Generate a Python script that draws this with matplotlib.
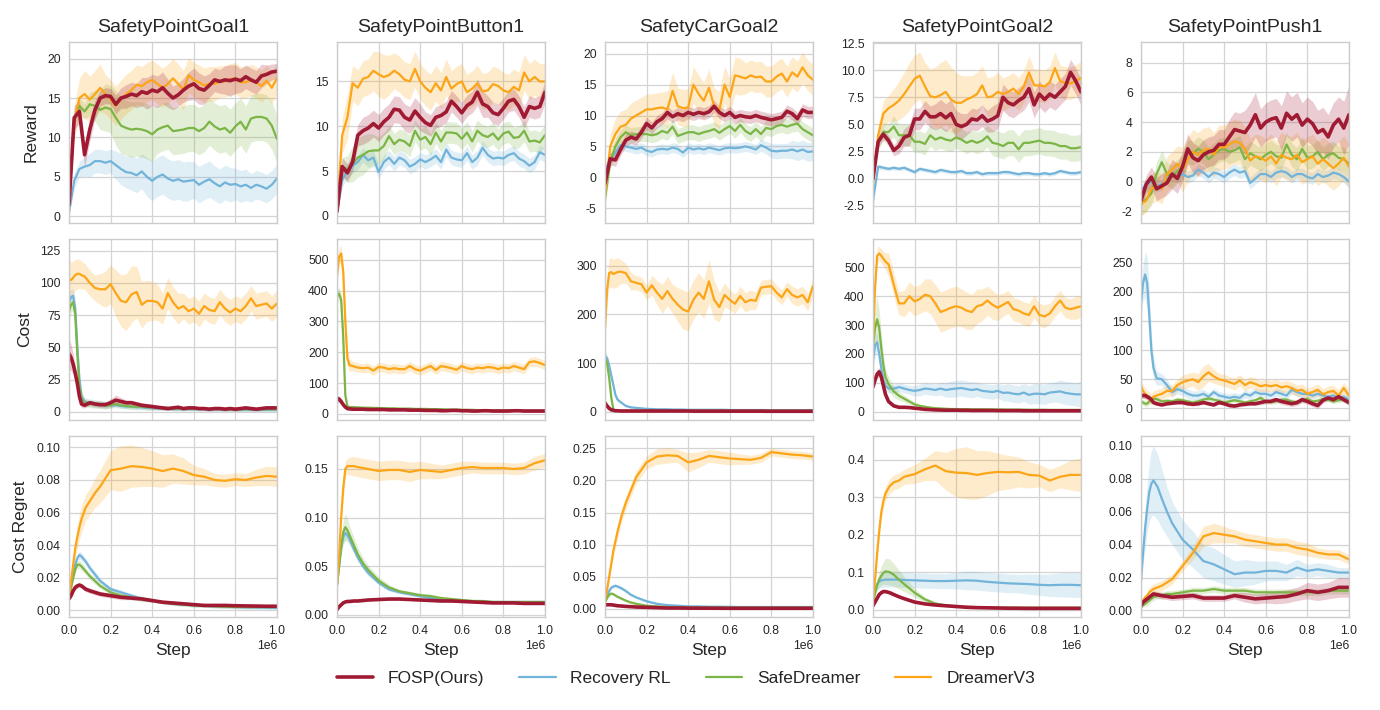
import numpy as np
import matplotlib
matplotlib.use("Agg")
import matplotlib.pyplot as plt
import seaborn as sns
from matplotlib.lines import Line2D

sns.set_style("whitegrid")
plt.rcParams['font.family'] = ['Liberation Sans', 'DejaVu Sans']
plt.rcParams['axes.unicode_minus'] = True

# ---------------- x grids (millions of steps) ----------------
STEPS_REWARD = [0, 0.025, 0.05, 0.075, 0.1, 0.125, 0.15, 0.175, 0.2, 0.225, 0.25, 0.275, 0.3, 0.325,
                0.35, 0.375, 0.4, 0.425, 0.45, 0.475, 0.5, 0.525, 0.55, 0.575, 0.6, 0.625, 0.65, 0.675,
                0.7, 0.725, 0.75, 0.775, 0.8, 0.825, 0.85, 0.875, 0.9, 0.925, 0.95, 0.975, 1.0]
STEPS_COST = [0, 0.01, 0.02, 0.03, 0.04, 0.05, 0.06, 0.075, 0.1, 0.125, 0.15, 0.175, 0.2, 0.225, 0.25,
              0.275, 0.3, 0.325, 0.35, 0.375, 0.4, 0.425, 0.45, 0.475, 0.5, 0.525, 0.55, 0.575, 0.6,
              0.625, 0.65, 0.675, 0.7, 0.725, 0.75, 0.775, 0.8, 0.825, 0.85, 0.875, 0.9, 0.925, 0.95,
              0.975, 1.0]
STEPS_REGRET = [0, 0.01, 0.02, 0.03, 0.04, 0.05, 0.06, 0.08, 0.1, 0.125, 0.15, 0.2, 0.25, 0.3, 0.35,
                0.4, 0.45, 0.5, 0.55, 0.6, 0.65, 0.7, 0.75, 0.8, 0.85, 0.9, 0.95, 1.0]

ENVS = ["SafetyPointGoal1", "SafetyPointButton1", "SafetyCarGoal2", "SafetyPointGoal2", "SafetyPointPush1"]
METHODS = ["FOSP(Ours)", "Recovery RL", "SafeDreamer", "DreamerV3"]
ROW_LABELS = ["Reward", "Cost", "Cost Regret"]

# ======================= REWARD =======================
# SafetyPointGoal1
rew_g1_fosp = [1.5,12.5,13.3,7.8,11,13.5,15,15.3,15.2,14.2,15,15.2,15.5,15.3,15.8,15.6,16,15.8,16.3,15.6,15,15.4,16,16.5,16.8,16.2,16,16.6,17.3,17.1,17.3,17.2,17.4,17.2,17.7,17.3,17,17.8,18,18.3,18.4]
rew_g1_fosp_e = [1,1.5,1.5,1.5,1.5,1.2,1,1,1,1.2,1.3,1.5,1.5,1.5,1.8,2,2,2,2,1.8,1.5,1.5,1.5,1.8,2,2,1.8,1.5,1.5,1.5,1.8,2,1.8,1.5,1.5,1.5,1.5,1.5,1.2,1,1]
rew_g1_rec = [0.5,4.5,6,6.3,6.5,7,7,6.8,7,6.5,6,5.6,5.5,5.2,5.7,5,4.5,5,5.3,4.8,4.5,4.7,4.4,4.5,4.6,4,4.4,4.7,4.2,3.8,4.3,4,4.1,3.8,4,3.6,4,3.8,3.5,4,4.8]
rew_g1_rec_e = [0.5,1,1,1.2,1.5,1.5,1.5,1.5,1.5,1.8,2,2,2.2,2.2,2.2,2.5,2.5,2.5,2.5,2.5,2.5,2.5,2.5,2.5,2.3,2.3,2.3,2.3,2.2,2.2,2.2,2.2,2,2,2,1.8,1.8,1.8,1.8,1.8,1.8]
rew_g1_sdr = [1,12.5,14,13.3,14.2,14,13.5,13.8,13.6,12.5,11.5,11.2,11,11.1,11,10.8,10.4,11,11.3,11.5,10.8,10.9,11,11.2,11.2,10.8,11.2,12,11.4,11,11.2,10.6,11.4,12,11,12.4,12.6,12.6,12.4,11.5,9.8]
rew_g1_sdr_e = [0.5,1,1,1,1.5,2,2.5,3,3,3.5,3.5,3.5,3.5,3.5,3.5,3.5,3.5,3,3,3,3,3,3,3,3,3,3,3,3,3,3,3,3,3,3,3,3,3,3,3,3]
rew_g1_dv3 = [2,12,15,15.5,14.8,15.5,16.3,15.5,14.8,14,14.8,15.5,16,16.7,16.5,17,17.3,16.8,16.3,16.8,17.5,16.8,16,17.9,17.3,17,16.6,16.8,16.8,17.1,17.1,17.4,17.5,17,17,17.3,17,16.5,17.2,16.3,17.5]
rew_g1_dv3_e = [1,2,2.5,3,3,3,3,2.5,2.5,2.5,2.5,2.5,2.5,2.5,2.5,2.5,2.5,2.5,2.5,2.5,2.5,2.5,2.5,2.2,2.2,2.2,2.2,2.2,2.2,2,2,2,2,2,2,2,2,2,2,2,2]

# SafetyPointButton1
rew_b1_fosp = [0.5,5.5,4.8,6,9,9.5,9.8,10.3,9.8,10.5,11,11.9,11.8,11,10.7,11.7,11,10.4,10.1,11,11.2,11.6,12.8,12.2,11.5,12.3,12.7,13.8,12.5,12.2,11.5,11.3,12,12.8,13,12.2,11,12.2,12,12.2,13.8]
rew_b1_fosp_e = [0.5,1,1,1,1.2,1.5,1.5,1.5,1.5,1.5,1.5,1.5,1.5,1.5,1.5,1.5,1.5,1.2,1.2,1.2,1.2,1.2,1.2,1.2,1.2,1.2,1.2,1.5,1.5,1.2,1.2,1.2,1.2,1.2,1.2,1.2,1.2,1.2,1.2,1.2,1.2]
rew_b1_rec = [0.3,4,5,5.6,6,6.8,6.2,6.5,4.9,6,6.5,5.8,6.5,6.2,5.5,5.8,6.3,6,6.3,6.7,6,7.4,6.5,6.3,6.2,7,6,6.5,7.6,6.8,6.4,6.5,6.4,6.8,7,6.4,6.1,5.6,6,7.1,6.8]
rew_b1_rec_e = [0.3,0.8,0.8,0.8,0.8,0.8,0.8,0.8,0.8,0.8,0.8,0.8,0.8,0.8,0.8,0.8,0.8,0.8,0.8,0.8,0.8,0.8,0.8,0.8,0.8,0.8,0.8,0.8,0.8,0.8,0.8,0.8,0.8,0.8,0.8,0.8,0.8,0.8,0.8,0.8,0.8]
rew_b1_sdr = [0.3,5.5,5.2,5.8,6.5,6.8,7.2,7.3,7.3,7.8,8.9,8,8.5,8.3,7.8,9.5,8.5,8.8,8,9.3,8.3,9.3,9.3,9.2,8.6,9.3,8.3,9.5,9,8.8,9.2,8.5,9.2,9.4,8.7,8.8,9.5,8.3,8.4,8.2,9]
rew_b1_sdr_e = [0.3,1,1.5,2,2.2,2.2,2,1.8,1.5,1.5,1.2,1.2,1.2,1.2,1.2,1.2,1.2,1.2,1.2,1.2,1.2,1.2,1.2,1.2,1.2,1.2,1.2,1.2,1.2,1.2,1.2,1.2,1.2,1.2,1.2,1.2,1.2,1.2,1.2,1.2,1.2]
rew_b1_dv3 = [0.5,9,11,14.8,14.3,15.3,15.5,16.2,15.8,15.5,15.7,16.2,15.8,15.2,15,16.4,15,14.3,13.8,14.8,14,15.5,14.2,14.7,15,13.8,14.2,14.8,13.9,14,14.7,14.5,14,13.8,14.4,14,16,15,15.5,15,15]
rew_b1_dv3_e = [0.5,2,2.5,2,2,2,2,2.2,2.5,2.5,2.2,2,2,2,2,2,2,2,2,2,2,2,2,2,2,2,2,2,2,2,2,2,2,2,2,2,2,2,2,2,2]

# SafetyCarGoal2
rew_c2_fosp = [-1,3,2.8,4.5,6,6.5,6.2,7.3,8.7,8,9,9.5,10.5,9.8,10.3,10,10.5,10.2,10.5,10.3,10.6,11.5,10.5,10,10.5,9.7,10,9.8,9.7,10,9.7,9.5,9.3,9.5,9.7,10.7,10.3,9.5,10.9,10.5,10.5]
rew_c2_fosp_e = [1,1,1,1,1,1,1,1,1,1,1,1,1,1,1,1,1,1,1,1,1,1,1,1,1,1,1,1,1,1,1,1,1,1,1,1,1,1,1,1,1]
rew_c2_rec = [1,3,4,5.2,5,4.8,4.6,4.8,4.3,4.1,4.5,4.6,4.5,4.8,4.6,4,4.8,4.5,4.7,4.5,4.8,4.6,4.4,4.7,4.8,4.7,4.8,5,4.8,4.5,5.2,4.8,4.3,4.2,4.3,4.3,4.5,4.2,4.5,4.1,4.2]
rew_c2_rec_e = [1,0.8,0.8,0.8,0.8,0.8,0.8,0.8,0.8,0.8,0.8,0.8,0.8,0.8,0.8,0.8,0.8,0.8,0.8,0.8,0.8,0.8,0.8,0.8,0.8,0.8,0.8,0.8,0.8,0.8,1,1,1.2,1.2,1.2,1.2,1.5,1.5,1.5,1.5,1.5]
rew_c2_sdr = [-3.5,2.5,5,6.5,7.3,6.8,7,7,7,6.8,7,7.5,7.2,8.2,6.7,7,7.3,7.3,7,7.3,7.5,7.8,7.2,7.8,8.3,7.5,8.5,7.5,7,7.8,7,8,7.8,8.3,8.5,8.2,8.5,8.7,7.8,7.3,6.8]
rew_c2_sdr_e = [1.5,1.2,1.2,1.2,1.2,1.2,1.2,1.2,1.2,1.2,1.2,1.2,1.2,1.2,1.2,1.2,1.2,1.2,1.2,1.2,1.2,1.2,1.2,1.2,1.2,1.2,1.2,1.2,1.2,1.2,1.2,1.2,1.2,1.2,1.2,1.2,1.2,1.2,1.2,1.2,1.2]
rew_c2_dv3 = [-3,5,7,8.2,8.5,9.5,10,10.5,11,11,11.2,11.3,11,14,11.5,11.2,11.3,15,13.5,12.4,14.5,11.5,10.9,15,13,16.5,16.3,16,16.5,16.2,16.3,15.5,15.5,16.3,16.8,15.5,17,16.3,17.8,16.5,15.8]
rew_c2_dv3_e = [1.5,2,2.5,2.5,2.5,2.5,2.5,2.5,2.5,2.5,2.5,2.5,3,3,3,3,3,3,3,3,3,3,3,3,3,3,3,2.5,2.5,2.5,2.5,2.5,2.5,2.5,2.5,2.5,2.5,2.5,2.5,2.5,2.5]

# SafetyPointGoal2
rew_g2_fosp = [0,3.4,4.1,3.5,2.6,3,3.8,4,5.5,5.5,6.2,5.7,5.7,6,5.6,6,5,4.8,5,5.5,5.4,5.8,5.3,5.5,5.8,7.5,7,6.8,7.2,7.5,8.3,6.8,7.8,7.3,7.8,7.5,8,8.5,9.8,9,8]
rew_g2_fosp_e = [0.3,0.5,0.5,0.5,0.5,0.7,0.8,1,1,1,1,1,1.2,1.3,1.3,1.3,1.3,1.2,1,1,1,1,1,1.2,1.2,1.2,1.2,1.2,1.2,1.2,1.2,1.2,1.2,1.2,1.2,1.2,1.2,1.2,1.2,1.2,1.2]
rew_g2_rec = [-2,1.1,1,0.9,1,0.9,1,0.8,0.6,0.9,0.8,0.7,0.6,0.8,0.7,0.6,0.6,0.7,0.5,0.5,0.6,0.4,0.5,0.5,0.5,0.6,0.6,0.5,0.4,0.5,0.5,0.4,0.4,0.5,0.4,0.5,0.7,0.6,0.5,0.5,0.6]
rew_g2_rec_e = [0.8,0.3,0.2,0.2,0.2,0.2,0.2,0.2,0.2,0.2,0.2,0.2,0.2,0.2,0.2,0.2,0.2,0.2,0.2,0.2,0.2,0.2,0.2,0.2,0.2,0.2,0.2,0.2,0.2,0.2,0.2,0.2,0.2,0.2,0.2,0.2,0.2,0.2,0.2,0.2,0.2]
rew_g2_sdr = [0.3,3.5,4.3,4.3,4.8,4,4,4,3.4,3.4,3.2,4,3.6,3.8,3.6,3.5,3.8,3.6,3.3,3.5,3.3,3.5,3.9,3.3,3.2,3,3.3,3.3,2.7,3.3,3.3,3.4,3.5,3.3,3.3,3.2,3,3,2.8,2.8,2.9]
rew_g2_sdr_e = [0.5,0.8,0.8,0.8,1,1,1,1,1,1,1,1,1,1,1,1,1,1,1,1,1,1,1,1.2,1.2,1.2,1.2,1.2,1.2,1.2,1.2,1.2,1.2,1.2,1.2,1.2,1.2,1.2,1.2,1.2,1.2]
rew_g2_dv3 = [-0.5,4,6,6.5,6.8,7.2,7.8,8.5,9.2,9.5,8.5,7.6,7.5,7.7,8,7.3,7,7,7.3,7.5,7.8,8.6,7.5,7.6,8,7.8,8,8.3,7.8,8.5,9.8,8.6,8.6,8.5,8.9,10.2,9,8.8,8.8,9,9.3]
rew_g2_dv3_e = [0.5,1,1.2,1.2,1.5,1.8,2,2.2,2.2,2.2,2.2,2.5,2.8,3,3,3,2.8,2.5,2.2,2,2,1.8,1.8,1.8,1.8,1.5,1.5,1.5,1.5,1.5,1.5,1.5,1.5,1.5,1.5,1.5,1.5,1.5,1.5,1.5,1.5]

# SafetyPointPush1
rew_p1_fosp = [-1.3,-0.2,0.3,-0.5,-0.3,-0.1,0.5,0.2,1,2.2,1.6,1.4,1.8,2,2.1,2.5,2.5,3,3.5,3.4,3.3,3.8,4.5,3.6,4,4.2,4.3,3.6,4.6,4.2,4.5,3.8,4.2,3.9,3.3,3.5,3,3.8,4.2,3.6,4.5]
rew_p1_fosp_e = [0.5,0.6,0.7,0.8,0.8,0.8,1,1,1,1,1,1,1,1,1,1,1,1.2,1.2,1.2,1.5,1.5,1.5,1.3,1.3,1.3,1.3,1.5,1.5,1.5,1.5,1.5,1.5,1.5,1.5,1.5,1.5,1.5,1.5,1.8,2]
rew_p1_rec = [-0.6,-0.2,0,-0.3,-0.2,0.3,0.5,0.3,0.5,0.3,0.4,0.8,0.6,0.3,0.6,0.5,0.3,0.6,0.8,0.6,0.7,-0.1,0.2,0.5,0.5,0.3,0.6,0.7,0.6,0.3,0.5,0.5,0.3,0.2,0.5,0.3,0.4,0.6,0.5,0.3,0]
rew_p1_rec_e = [0.4,0.4,0.4,0.4,0.4,0.4,0.4,0.4,0.4,0.4,0.4,0.4,0.4,0.4,0.4,0.4,0.4,0.4,0.4,0.4,0.4,0.4,0.4,0.4,0.4,0.4,0.4,0.4,0.4,0.4,0.4,0.4,0.4,0.4,0.4,0.4,0.4,0.4,0.4,0.4,0.4]
rew_p1_sdr = [-1.5,-1.2,-0.8,0.5,1.3,0.5,0.3,0.7,1,2,1.9,2.2,2,1.5,1.8,2.1,2.2,2,2.1,2.3,1.5,1.9,1.7,1.5,1.8,2,1.7,1.6,2.5,1.8,1.5,2.2,1.6,1.7,2,1.5,1.8,1.9,1.6,1.5,1.2]
rew_p1_sdr_e = [0.8,0.8,0.8,0.8,0.8,0.8,0.8,0.8,0.8,0.8,0.8,0.8,0.8,0.8,0.8,0.8,0.8,0.8,0.8,0.8,0.8,0.8,0.8,0.8,0.8,0.8,0.8,0.8,0.8,0.8,0.8,0.8,0.8,0.8,0.8,0.8,0.8,0.8,0.8,0.8,0.8]
rew_p1_dv3 = [-1.5,-1.3,-0.5,-0.3,-0.5,0.5,0.8,1.2,0.8,1.5,2,1.8,2.1,2.2,1.8,2.3,2.3,2.5,2.7,2.6,2.2,1.4,1.7,1.6,1.4,1.7,1.2,1.8,1.6,1.5,1.8,1.3,1.5,1.7,1.2,1.5,1.2,0.9,1.2,1.6,1]
rew_p1_dv3_e = [0.8,0.8,1,1,1,1.2,1.2,1.2,1.5,1.5,1.5,1.5,1.5,1.5,1.5,1.5,1.5,1.5,1.5,1.5,1.5,1.5,1.5,1.5,1.5,1.5,1.5,1.5,1.5,1.5,1.5,1.5,1.5,1.5,1.5,1.5,1.5,1.5,1.5,1.5,1.5]

# ======================= COST =======================
cost_g1_fosp = [45,42,37,30,22,12,6,5,7,6,5.5,5.5,7,9,8,7,7,6,5,4.5,4,3.5,3,2.5,3,3.5,2.5,3,3,2.5,2.5,2,2.5,2.5,2,2.5,2,2.5,3,2.5,2,2.5,3,3,3]
cost_g1_fosp_e = [12,10,8,6,5,4,3,2,2,2,2,2,3,4,3,2,2,2,2,2,2,1.5,1.5,1.5,1.5,1.5,1.5,1.5,1.5,1.5,1.5,1.5,1.5,1.5,1.5,1.5,1.5,1.5,1.5,1.5,1.5,1.5,1.5,1.5,1.5]
cost_g1_rec = [85,89,90,80,50,25,12,8,7,6,6,5,5,5,4.5,4,4,3.5,3.5,3,3,2.5,2.5,2.5,2,2,2,2,2,2,2,2,1.8,1.8,1.8,1.8,1.8,1.6,1.6,1.6,1.5,1.5,1.5,1.5,1.5]
cost_g1_rec_e = [8,6,5,8,10,8,5,3,3,3,3,3,2,2,2,2,2,2,2,2,2,1.5,1.5,1.5,1.5,1.5,1.5,1.5,1.5,1.5,1.5,1.5,1.5,1.5,1.5,1.5,1.5,1.5,1.5,1.5,1.5,1.5,1.5,1.5,1.5]
cost_g1_sdr = [78,83,85,75,45,20,10,7,6,6,5.5,5,5,6,5,4.5,4,4,4,3.5,3.5,3,3,3,2.5,2.5,2.5,2.5,2.5,2.5,2.2,2.2,2.2,2.2,2.2,2,2,2,2,2,2,2,2,2,2]
cost_g1_sdr_e = [8,6,5,8,10,8,5,3,3,3,3,3,2,2,2,2,2,2,2,2,2,1.5,1.5,1.5,1.5,1.5,1.5,1.5,1.5,1.5,1.5,1.5,1.5,1.5,1.5,1.5,1.5,1.5,1.5,1.5,1.5,1.5,1.5,1.5,1.5]
cost_g1_dv3 = [103,102,104,106,107,107,106,105,100,96,95,95,99,92,86,85,91,93,83,86,86,85,80,92,85,80,82,78,80,76,82,79,78,85,80,77,80,78,82,88,82,83,84,80,84]
cost_g1_dv3_e = [15,14,13,12,12,11,11,10,10,10,12,14,15,18,20,22,22,20,18,16,15,14,12,12,12,12,10,10,10,10,10,10,10,10,10,10,10,10,10,10,10,10,10,10,10]

cost_b1_fosp = [50,48,40,30,22,17,16,15,15,15,14,14,14,14,13,13,13,13,12,12,12,11,11,11,10,10,11,11,10,10,9,9,10,10,9,9,9,9,10,10,9,9,9,9,9]
cost_b1_fosp_e = [10,10,8,6,5,4,3,3,3,3,3,3,3,3,3,3,3,3,3,3,3,3,3,3,3,3,3,3,3,3,3,3,3,3,3,3,3,3,3,3,3,3,3,3,3]
cost_b1_rec = [40,45,40,30,22,20,19,18,18,17,17,17,16,16,16,15,15,15,14,14,14,14,13,13,13,13,12,12,12,12,11,11,11,11,11,11,11,11,11,11,11,11,11,11,11]
cost_b1_rec_e = [5,5,5,5,4,3,3,2,2,2,2,2,2,2,2,2,2,2,2,2,2,2,2,2,2,2,2,2,2,2,2,2,2,2,2,2,2,2,2,2,2,2,2,2,2]
cost_b1_sdr = [380,390,370,250,60,25,22,22,21,20,20,19,19,18,18,18,17,17,17,16,16,16,15,15,15,14,14,14,13,13,13,12,12,12,12,11,11,11,11,11,10,10,10,10,10]
cost_b1_sdr_e = [20,20,20,30,20,5,3,3,3,3,3,3,3,3,3,3,3,3,3,3,3,3,3,3,3,3,3,3,3,3,3,3,3,3,3,3,3,3,3,3,3,3,3,3,3]
cost_b1_dv3 = [450,510,520,460,300,180,158,155,150,148,150,140,152,150,145,148,145,145,155,145,140,148,155,142,155,152,148,143,155,148,145,150,148,152,150,145,150,148,155,150,145,168,170,165,158]
cost_b1_dv3_e = [30,30,25,30,40,30,20,15,15,15,15,15,15,15,15,15,15,15,15,15,15,15,15,15,15,15,15,15,15,15,15,15,15,15,15,15,15,15,15,15,15,15,15,15,15]

cost_c2_fosp = [18,12,7,4,3,2,2,1.5,1.5,1.5,1.5,1.5,1.5,1.5,1.5,1.5,1.5,1.5,1.5,1.5,1.5,1.2,1.2,1.2,1.2,1.2,1.2,1.2,1.2,1.2,1.2,1.2,1.2,1.2,1.2,1,1,1,1,1,1,1,1,1,1]
cost_c2_fosp_e = [5,3,2,1,1,1,1,1,1,1,1,1,1,1,1,1,1,1,1,1,1,1,1,1,1,1,1,1,1,1,1,1,1,1,1,1,1,1,1,1,1,1,1,1,1]
cost_c2_rec = [115,110,95,75,55,35,25,20,12,9,8,7,6,5.5,5,5,5,4.5,4.5,4.5,4,4,4,4,4,4,4,4,3.5,3.5,3.5,3.5,3.5,3.5,3.5,3.5,3,3,3,3,3,3,3,3,3]
cost_c2_rec_e = [8,8,8,8,8,6,5,3,2,2,2,2,2,2,2,2,2,1.5,1.5,1.5,1.5,1.5,1.5,1.5,1.5,1.5,1.5,1.5,1.5,1.5,1.5,1.5,1.5,1.5,1.5,1.5,1.5,1.5,1.5,1.5,1.5,1.5,1.5,1.5,1.5]
cost_c2_sdr = [110,100,70,30,5,2,2,2,2,2,2,2,2,2,2,2,2,2,2,2,2,2,2,2,2,2,2,2,2,2,2,2,2,2,2,2,2,2,2,2,2,2,2,2,2]
cost_c2_sdr_e = [8,8,8,8,3,1,1,1,1,1,1,1,1,1,1,1,1,1,1,1,1,1,1,1,1,1,1,1,1,1,1,1,1,1,1,1,1,1,1,1,1,1,1,1,1]
cost_c2_dv3 = [170,250,285,287,283,285,287,288,285,268,265,262,245,260,245,232,248,232,220,210,206,230,245,232,268,230,215,240,230,222,238,225,230,228,255,257,258,245,235,252,240,235,240,225,258]
cost_c2_dv3_e = [20,25,30,30,30,30,30,25,20,18,15,15,15,20,25,30,30,30,35,40,40,40,40,40,45,40,30,25,20,20,20,20,20,18,15,15,15,15,15,15,18,18,18,18,18]

cost_g2_fosp = [86,110,130,138,120,90,60,35,20,15,15,14,12,10,8,7,6,5.5,5,5,5,4.5,4.5,4,4,4,4,4,3.5,3.5,3.5,3.5,3.5,3,3,3,3,3,3,3,3,3,3,3,3]
cost_g2_fosp_e = [15,15,15,15,15,12,10,6,4,3,3,3,3,3,3,3,3,3,3,3,3,3,3,3,3,3,3,3,3,3,3,3,3,3,3,3,3,3,3,3,3,3,3,3,3]
cost_g2_rec = [180,230,240,200,150,110,90,80,80,85,80,75,72,75,80,78,75,80,75,78,80,82,78,75,78,72,70,68,72,65,66,62,60,66,58,62,62,60,66,68,70,65,62,60,60]
cost_g2_rec_e = [40,40,30,30,25,20,20,15,15,15,15,15,18,20,20,20,20,22,25,28,28,28,28,28,25,25,25,25,25,28,30,30,30,30,32,35,35,35,35,35,40,40,40,40,45]
cost_g2_sdr = [230,290,320,290,220,160,120,95,70,55,45,35,25,20,17,14,12,11,10,9,9,8.5,8.5,8,8,8,8,7.5,7.5,7.5,7,7,7,7,6.5,6.5,6.5,6.5,6,6,6,6,6,6,6]
cost_g2_sdr_e = [50,70,80,60,50,40,30,25,20,15,12,10,8,6,5,4,3,3,3,3,3,3,3,3,3,3,3,3,3,3,3,3,3,3,3,3,3,3,3,3,3,3,3,3,3]
cost_g2_dv3 = [240,430,540,548,540,530,520,510,440,375,375,400,382,390,405,400,375,345,352,360,365,360,350,345,365,370,385,370,360,370,380,355,350,340,335,365,335,330,340,365,385,360,355,360,365]
cost_g2_dv3_e = [30,40,30,25,25,25,30,40,40,40,45,50,50,50,55,60,65,70,70,70,70,65,65,60,60,55,50,50,45,40,40,40,40,40,40,40,40,40,35,35,35,35,35,40,40]

cost_p1_fosp = [22,22,22,20,18,15,10,8,6,8,9,10,10,8,7,8,10,8,6,10,8,5,4,6,7,8,8,10,12,12,15,12,10,8,10,15,12,8,5,14,18,15,20,15,10]
cost_p1_fosp_e = [5,5,5,5,5,5,4,3,3,3,3,3,3,3,3,3,3,3,3,3,3,3,3,3,3,3,3,4,4,4,4,5,5,5,5,5,5,5,5,5,5,5,5,5,5]
cost_p1_rec = [180,215,230,215,160,100,70,52,50,40,28,33,30,25,22,22,25,20,28,22,20,18,20,18,25,22,28,25,25,22,28,25,22,32,28,25,25,22,25,22,20,22,18,20,15]
cost_p1_rec_e = [25,30,40,45,40,25,20,12,10,10,8,8,8,8,8,8,8,7,7,7,7,7,7,7,7,7,7,7,7,7,7,7,7,7,7,7,7,6,6,6,6,6,6,6,6]
cost_p1_sdr = [12,10,8,8,12,15,17,16,12,13,12,15,14,12,10,12,15,17,15,13,10,12,14,12,10,12,14,18,12,11,12,15,15,12,10,14,16,12,13,16,15,12,14,16,12]
cost_p1_sdr_e = [5,5,5,5,5,5,5,4,4,4,4,4,4,4,4,4,4,4,4,4,4,4,4,4,4,4,4,4,4,4,4,4,4,4,4,4,4,4,4,4,4,4,4,4,4]
cost_p1_dv3 = [38,30,25,22,18,15,20,22,25,30,30,40,45,48,50,45,55,62,55,50,48,45,42,48,40,45,42,38,40,38,40,36,38,35,30,32,25,28,32,24,28,30,22,35,22]
cost_p1_dv3_e = [12,12,10,10,10,10,10,10,10,10,10,10,12,12,12,15,18,15,12,10,10,10,10,10,10,10,10,10,10,10,10,10,10,10,10,10,10,10,10,10,10,10,10,10,10]

# ======================= COST REGRET =======================
reg_g1_fosp = [0.007,0.009,0.012,0.014,0.015,0.0155,0.015,0.013,0.012,0.011,0.010,0.009,0.008,0.0075,0.007,0.006,0.005,0.0045,0.004,0.0035,0.003,0.003,0.003,0.0028,0.0027,0.0026,0.0025,0.0025]
reg_g1_fosp_e = [0.001,0.001,0.0015,0.0015,0.0015,0.0015,0.0015,0.0015,0.0015,0.0015,0.0015,0.0015,0.0015,0.001,0.001,0.001,0.001,0.001,0.0008,0.0008,0.0008,0.0008,0.0008,0.0008,0.0008,0.0008,0.0008,0.0008]
reg_g1_rec = [0.01,0.015,0.022,0.028,0.032,0.034,0.033,0.030,0.026,0.022,0.018,0.013,0.011,0.009,0.007,0.006,0.005,0.004,0.0035,0.003,0.0028,0.0025,0.0022,0.002,0.0018,0.0017,0.0016,0.0015]
reg_g1_rec_e = [0.001,0.002,0.002,0.002,0.002,0.0025,0.0025,0.002,0.002,0.002,0.0015,0.0015,0.0015,0.0015,0.0015,0.001,0.001,0.001,0.001,0.001,0.001,0.001,0.001,0.001,0.001,0.001,0.001,0.001]
reg_g1_sdr = [0.008,0.014,0.020,0.025,0.028,0.028,0.027,0.024,0.021,0.018,0.015,0.011,0.009,0.008,0.007,0.006,0.005,0.004,0.0035,0.003,0.0028,0.0025,0.0022,0.0021,0.002,0.002,0.002,0.002]
reg_g1_sdr_e = [0.001,0.002,0.002,0.002,0.002,0.0025,0.0025,0.002,0.002,0.002,0.0015,0.0015,0.0015,0.0015,0.0015,0.001,0.001,0.001,0.001,0.001,0.001,0.001,0.001,0.001,0.001,0.001,0.001,0.001]
reg_g1_dv3 = [0.008,0.018,0.028,0.038,0.045,0.051,0.056,0.063,0.067,0.072,0.076,0.086,0.087,0.0885,0.088,0.087,0.0855,0.087,0.0855,0.083,0.082,0.080,0.0795,0.0805,0.080,0.0815,0.0825,0.082]
reg_g1_dv3_e = [0.002,0.004,0.005,0.006,0.007,0.008,0.008,0.008,0.008,0.009,0.010,0.012,0.014,0.013,0.012,0.011,0.010,0.009,0.008,0.006,0.005,0.004,0.004,0.004,0.004,0.005,0.006,0.006]

reg_b1_fosp = [0.005,0.008,0.010,0.012,0.013,0.0135,0.0135,0.014,0.014,0.0145,0.015,0.0155,0.016,0.016,0.0155,0.015,0.0145,0.014,0.014,0.0135,0.013,0.0125,0.012,0.012,0.012,0.0115,0.0115,0.0115]
reg_b1_fosp_e = [0.001,0.001,0.001,0.001,0.001,0.001,0.001,0.001,0.001,0.001,0.001,0.001,0.001,0.001,0.001,0.001,0.001,0.001,0.001,0.001,0.001,0.001,0.001,0.001,0.001,0.001,0.001,0.001]
reg_b1_rec = [0.03,0.05,0.068,0.08,0.084,0.082,0.078,0.068,0.059,0.050,0.043,0.033,0.026,0.023,0.021,0.019,0.017,0.016,0.015,0.014,0.014,0.013,0.013,0.013,0.013,0.013,0.013,0.013]
reg_b1_rec_e = [0.003,0.004,0.005,0.006,0.006,0.005,0.005,0.004,0.004,0.003,0.003,0.002,0.002,0.0015,0.0015,0.0015,0.0015,0.0015,0.0015,0.0015,0.0015,0.0015,0.0015,0.0015,0.0015,0.0015,0.0015,0.0015]
reg_b1_sdr = [0.03,0.05,0.07,0.085,0.09,0.087,0.082,0.072,0.062,0.053,0.046,0.035,0.028,0.024,0.022,0.020,0.019,0.017,0.016,0.015,0.014,0.014,0.013,0.013,0.013,0.013,0.013,0.013]
reg_b1_sdr_e = [0.003,0.005,0.008,0.012,0.014,0.012,0.010,0.008,0.007,0.006,0.005,0.004,0.003,0.002,0.002,0.002,0.002,0.002,0.0015,0.0015,0.0015,0.0015,0.0015,0.0015,0.0015,0.0015,0.0015,0.0015]
reg_b1_dv3 = [0.03,0.06,0.10,0.13,0.15,0.153,0.153,0.153,0.152,0.151,0.150,0.148,0.149,0.149,0.147,0.149,0.148,0.147,0.149,0.151,0.152,0.151,0.151,0.151,0.150,0.151,0.156,0.159]
reg_b1_dv3_e = [0.003,0.005,0.007,0.008,0.008,0.008,0.009,0.010,0.010,0.010,0.010,0.010,0.010,0.010,0.010,0.009,0.008,0.007,0.007,0.007,0.006,0.006,0.006,0.006,0.006,0.006,0.007,0.007]

reg_c2_fosp = [0.006,0.0065,0.0065,0.0065,0.006,0.0055,0.005,0.0045,0.004,0.0035,0.003,0.0025,0.002,0.0015,0.0015,0.0013,0.0012,0.0012,0.0011,0.001,0.001,0.001,0.001,0.001,0.001,0.001,0.001,0.001]
reg_c2_fosp_e = [0.001,0.001,0.001,0.001,0.001,0.001,0.001,0.001,0.001,0.001,0.001,0.001,0.001,0.001,0.001,0.001,0.001,0.001,0.001,0.001,0.001,0.001,0.001,0.001,0.001,0.001,0.001,0.001]
reg_c2_rec = [0.012,0.02,0.028,0.033,0.035,0.036,0.035,0.032,0.028,0.022,0.018,0.012,0.008,0.006,0.005,0.004,0.004,0.0035,0.0035,0.0033,0.003,0.003,0.003,0.003,0.003,0.003,0.003,0.003]
reg_c2_rec_e = [0.002,0.002,0.003,0.003,0.003,0.003,0.003,0.003,0.003,0.002,0.002,0.002,0.0015,0.001,0.001,0.001,0.001,0.001,0.001,0.001,0.001,0.001,0.001,0.001,0.001,0.001,0.001,0.001]
reg_c2_sdr = [0.01,0.017,0.022,0.024,0.023,0.021,0.019,0.016,0.013,0.010,0.008,0.005,0.004,0.003,0.0025,0.002,0.002,0.002,0.002,0.002,0.002,0.002,0.002,0.002,0.002,0.002,0.002,0.002]
reg_c2_sdr_e = [0.002,0.002,0.002,0.002,0.002,0.002,0.002,0.002,0.002,0.0015,0.0015,0.001,0.001,0.001,0.001,0.001,0.001,0.001,0.001,0.001,0.001,0.001,0.001,0.001,0.001,0.001,0.001,0.001]
reg_c2_dv3 = [0.012,0.03,0.05,0.07,0.09,0.105,0.12,0.145,0.165,0.185,0.205,0.228,0.237,0.239,0.238,0.228,0.232,0.238,0.236,0.234,0.233,0.232,0.235,0.244,0.242,0.240,0.239,0.237]
reg_c2_dv3_e = [0.003,0.005,0.006,0.008,0.010,0.010,0.010,0.010,0.010,0.010,0.010,0.010,0.012,0.012,0.010,0.015,0.012,0.010,0.010,0.010,0.008,0.007,0.007,0.006,0.006,0.006,0.006,0.006]

reg_g2_fosp = [0.01,0.02,0.03,0.04,0.045,0.048,0.048,0.045,0.04,0.034,0.029,0.02,0.015,0.012,0.01,0.008,0.006,0.005,0.0045,0.004,0.0035,0.0033,0.003,0.003,0.003,0.003,0.003,0.003]
reg_g2_fosp_e = [0.002,0.003,0.003,0.004,0.004,0.004,0.004,0.004,0.004,0.003,0.003,0.003,0.002,0.002,0.002,0.002,0.002,0.002,0.002,0.002,0.002,0.002,0.002,0.002,0.002,0.002,0.002,0.002]
reg_g2_rec = [0.02,0.05,0.068,0.075,0.078,0.079,0.08,0.08,0.08,0.08,0.079,0.078,0.077,0.076,0.076,0.077,0.078,0.077,0.074,0.072,0.07,0.069,0.068,0.066,0.065,0.066,0.066,0.065]
reg_g2_rec_e = [0.01,0.012,0.015,0.018,0.02,0.02,0.02,0.02,0.02,0.02,0.02,0.02,0.02,0.02,0.02,0.022,0.025,0.025,0.025,0.025,0.025,0.025,0.027,0.028,0.03,0.032,0.033,0.033]
reg_g2_sdr = [0.02,0.045,0.065,0.08,0.09,0.098,0.102,0.1,0.093,0.08,0.068,0.045,0.027,0.016,0.011,0.008,0.007,0.006,0.0055,0.005,0.005,0.005,0.005,0.005,0.005,0.005,0.005,0.005]
reg_g2_sdr_e = [0.005,0.01,0.015,0.02,0.025,0.03,0.035,0.035,0.03,0.025,0.02,0.012,0.006,0.004,0.003,0.003,0.003,0.003,0.003,0.003,0.003,0.003,0.003,0.003,0.003,0.003,0.003,0.003]
reg_g2_dv3 = [0.02,0.08,0.15,0.21,0.26,0.29,0.31,0.33,0.34,0.345,0.355,0.362,0.375,0.385,0.37,0.366,0.365,0.36,0.365,0.368,0.367,0.368,0.36,0.358,0.345,0.355,0.36,0.36]
reg_g2_dv3_e = [0.01,0.015,0.02,0.02,0.02,0.02,0.02,0.02,0.02,0.02,0.02,0.025,0.03,0.04,0.05,0.065,0.07,0.065,0.06,0.05,0.045,0.04,0.035,0.03,0.03,0.03,0.04,0.045]

reg_p1_fosp = [0.003,0.005,0.006,0.007,0.008,0.009,0.01,0.0095,0.009,0.0085,0.008,0.0085,0.009,0.0075,0.0075,0.0075,0.009,0.008,0.007,0.0075,0.008,0.0085,0.01,0.012,0.011,0.012,0.014,0.014]
reg_p1_fosp_e = [0.001,0.0015,0.002,0.002,0.002,0.002,0.002,0.002,0.002,0.002,0.002,0.002,0.002,0.002,0.002,0.002,0.002,0.003,0.003,0.003,0.004,0.004,0.004,0.005,0.005,0.005,0.006,0.006]
reg_p1_rec = [0.018,0.035,0.05,0.062,0.072,0.077,0.079,0.075,0.068,0.06,0.053,0.043,0.037,0.03,0.028,0.025,0.022,0.023,0.023,0.024,0.024,0.023,0.026,0.024,0.025,0.024,0.023,0.023]
reg_p1_rec_e = [0.005,0.008,0.012,0.015,0.018,0.02,0.021,0.02,0.018,0.015,0.013,0.012,0.011,0.01,0.01,0.009,0.008,0.008,0.007,0.006,0.006,0.005,0.005,0.004,0.004,0.004,0.003,0.003]
reg_p1_sdr = [0.002,0.003,0.004,0.005,0.006,0.007,0.008,0.009,0.009,0.01,0.01,0.011,0.012,0.012,0.013,0.012,0.012,0.012,0.011,0.011,0.011,0.011,0.011,0.011,0.011,0.012,0.012,0.012]
reg_p1_sdr_e = [0.001,0.001,0.0015,0.002,0.002,0.002,0.002,0.002,0.002,0.002,0.002,0.002,0.002,0.002,0.002,0.002,0.002,0.002,0.002,0.002,0.002,0.002,0.002,0.002,0.002,0.002,0.002,0.002]
reg_p1_dv3 = [0.004,0.006,0.008,0.009,0.011,0.012,0.013,0.014,0.015,0.017,0.019,0.027,0.035,0.045,0.047,0.046,0.045,0.043,0.042,0.041,0.04,0.04,0.038,0.037,0.035,0.034,0.034,0.031]
reg_p1_dv3_e = [0.002,0.002,0.002,0.002,0.003,0.003,0.003,0.003,0.003,0.003,0.003,0.003,0.004,0.006,0.006,0.005,0.004,0.004,0.004,0.004,0.004,0.004,0.004,0.004,0.003,0.003,0.003,0.003]

# ---------------- axis settings ----------------
YLIMS = [
    [(-0.85, 22.1), (-0.8, 19.4), (-7.4, 21.9), (-4.1, 12.6), (-2.8, 9.4)],
    [(-6.4, 134), (-20, 567), (-17, 355), (-29, 598), (-20, 291)],
    [(-0.0041, 0.107), (-0.0025, 0.184), (-0.0125, 0.269), (-0.02, 0.464), (-0.004, 0.106)],
]
YTICKS = [
    [[0, 5, 10, 15, 20], [0, 5, 10, 15], [-5, 0, 5, 10, 15, 20], [-2.5, 0, 2.5, 5, 7.5, 10, 12.5], [-2, 0, 2, 4, 6, 8]],
    [[0, 25, 50, 75, 100, 125], [0, 100, 200, 300, 400, 500], [0, 100, 200, 300], [0, 100, 200, 300, 400, 500], [0, 50, 100, 150, 200, 250]],
    [[0, 0.02, 0.04, 0.06, 0.08, 0.10], [0, 0.05, 0.10, 0.15], [0, 0.05, 0.10, 0.15, 0.20, 0.25], [0, 0.1, 0.2, 0.3, 0.4], [0, 0.02, 0.04, 0.06, 0.08, 0.10]],
]
YFMT = [["%d", "%d", "%d", "%.1f", "%d"], ["%d"] * 5, ["%.2f", "%.2f", "%.2f", "%.1f", "%.2f"]]
XTICKS = [0, 0.2, 0.4, 0.6, 0.8, 1.0]

COLORS = {"fosp": "#a11a33", "rec": "#72b3da", "sdr": "#7bb545", "dv3": "#fba517"}
WIDTHS = {"fosp": 2.6, "rec": 1.6, "sdr": 1.6, "dv3": 1.6}
ORDER = ["rec", "sdr", "dv3", "fosp"]
ENV_KEYS = ["g1", "b1", "c2", "g2", "p1"]
ROW_KEYS = [("rew", STEPS_REWARD), ("cost", STEPS_COST), ("reg", STEPS_REGRET)]

g = globals()
fig = plt.figure(figsize=(13.8, 7.1), dpi=100)
axes = fig.subplots(3, 5)
fig.subplots_adjust(left=0.05, right=0.9775, top=0.9408, bottom=0.131, wspace=0.2885, hspace=0.0884)

for r, (rk, steps) in enumerate(ROW_KEYS):
    x = np.array(steps) * 1e6
    for c, ek in enumerate(ENV_KEYS):
        ax = axes[r, c]
        for m in ORDER:
            y = np.array(g[f"{rk}_{ek}_{m}"], dtype=float)
            e = np.array(g[f"{rk}_{ek}_{m}_e"], dtype=float)
            if len(y) != len(x) or len(e) != len(x):
                raise ValueError(f"{rk}_{ek}_{m}: {len(y)} {len(e)} vs {len(x)}")
            ax.fill_between(x, y - e, y + e, color=COLORS[m], alpha=0.22, linewidth=0)
            ax.plot(x, y, color=COLORS[m], lw=WIDTHS[m], solid_capstyle='round', solid_joinstyle='round')
        ax.set_xlim(0, 1e6)
        ax.set_ylim(*YLIMS[r][c])
        ax.set_yticks(YTICKS[r][c])
        ax.yaxis.set_major_formatter(matplotlib.ticker.FormatStrFormatter(YFMT[r][c]))
        ax.set_xticks([v * 1e6 for v in XTICKS])
        ax.tick_params(axis='both', labelsize=8.8, pad=6, length=0, colors='#262626')
        ax.grid(True, color='#d4d4d4', lw=0.9)
        for s in ax.spines.values():
            s.set_color('#cccccc')
            s.set_linewidth(1.0)
        ax.xaxis.offsetText.set_visible(False)
        if r == 0:
            ax.set_title(ENVS[c], fontsize=14, pad=7, color='#262626')
        if r < 2:
            ax.tick_params(labelbottom=False)
        else:
            ax.xaxis.set_major_formatter(matplotlib.ticker.FuncFormatter(lambda v, p: "%.1f" % (v / 1e6)))
            ax.set_xlabel("Step", fontsize=12.5, labelpad=4, color='#262626')
            ax.text(1.0, -0.163, "1e6", transform=ax.transAxes, ha='right', va='center',
                    fontsize=8.8, color='#262626')
        if c == 0:
            ax.set_ylabel(ROW_LABELS[r], fontsize=12.5, labelpad=6, color='#262626')

handles = [Line2D([0], [0], color=COLORS[m], lw=WIDTHS[m]) for m in ["fosp", "rec", "sdr", "dv3"]]
fig.legend(handles, METHODS, loc='center', bbox_to_anchor=(0.497, 0.045), ncol=4, frameon=False,
           fontsize=12.5, handlelength=2.1, handletextpad=0.85, columnspacing=2.0)

fig.savefig("out.png", dpi=100)
